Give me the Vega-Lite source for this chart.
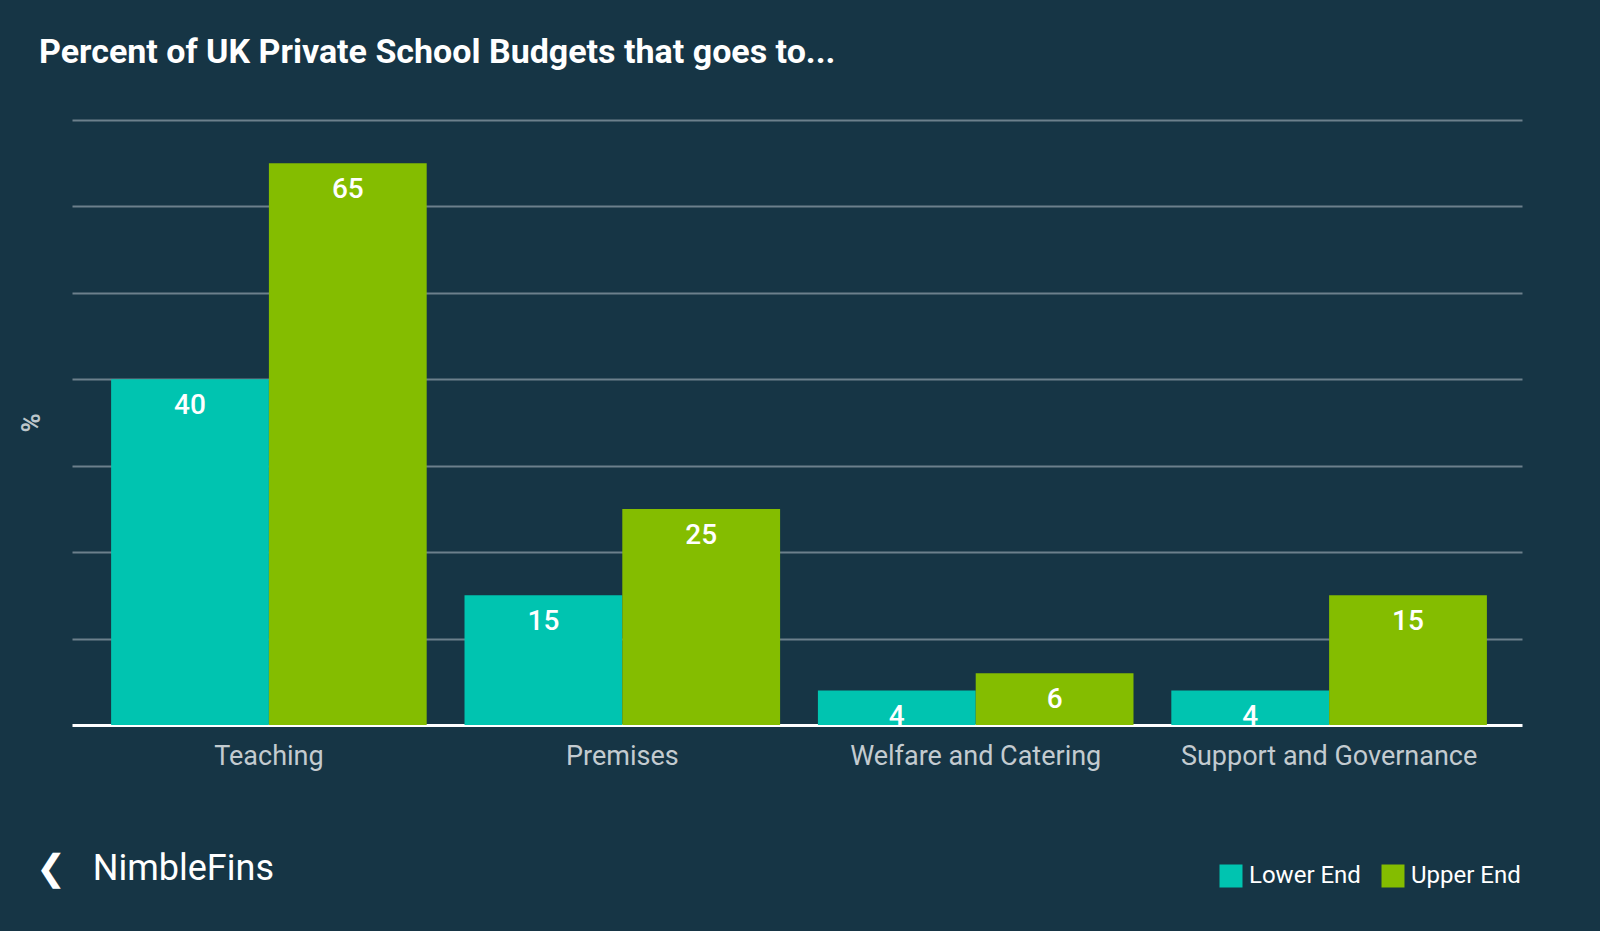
{
  "$schema": "https://vega.github.io/schema/vega-lite/v6.json",
  "autosize": {"type": "none"},
  "width": 1450,
  "height": 605,
  "padding": {"left": 72, "top": 120, "right": 78, "bottom": 206},
  "background": "#163545",
  "config": {"view": {"stroke": null}},
  "title": {
    "text": "Percent of UK Private School Budgets that goes to...",
    "anchor": "start",
    "frame": "group",
    "dx": -33,
    "offset": 50,
    "font": "Roboto",
    "fontSize": 34,
    "fontWeight": "bold",
    "color": "#ffffff"
  },
  "data": {
    "values": [
      {"category": "Teaching", "series": "Lower End", "value": 40},
      {"category": "Teaching", "series": "Upper End", "value": 65},
      {"category": "Premises", "series": "Lower End", "value": 15},
      {"category": "Premises", "series": "Upper End", "value": 25},
      {"category": "Welfare and Catering", "series": "Lower End", "value": 4},
      {"category": "Welfare and Catering", "series": "Upper End", "value": 6},
      {"category": "Support and Governance", "series": "Lower End", "value": 4},
      {"category": "Support and Governance", "series": "Upper End", "value": 15}
    ]
  },
  "encoding": {
    "x": {
      "field": "category",
      "type": "nominal",
      "sort": null,
      "scale": {"paddingInner": 0.107, "paddingOuter": 0.105, "align": 0.527},
      "axis": {
        "title": "❮ \u2002NimbleFins",
        "titleFont": "Roboto",
        "titleFontSize": 36,
        "titleFontWeight": "normal",
        "titleColor": "#ffffff",
        "titleAnchor": "start",
        "titleAlign": "left",
        "titleBaseline": "alphabetic",
        "titleX": -37,
        "titleY": 154,
        "labelAngle": 0,
        "labelLimit": 0,
        "labelFont": "Roboto",
        "labelFontSize": 27,
        "labelColor": "#c3cbd0",
        "labelPadding": 18,
        "ticks": false,
        "domainColor": "#ffffff",
        "domainWidth": 3
      }
    },
    "xOffset": {"field": "series", "type": "nominal"},
    "y": {
      "field": "value",
      "type": "quantitative",
      "scale": {"domain": [0, 70]},
      "axis": {
        "title": "%",
        "titleFont": "Roboto",
        "titleFontSize": 26,
        "titleFontWeight": "bold",
        "titleColor": "#bcc6cb",
        "titlePadding": 28,
        "values": [10, 20, 30, 40, 50, 60, 70],
        "labels": false,
        "ticks": false,
        "domain": false,
        "grid": true,
        "gridColor": "#6c808c",
        "gridWidth": 2
      }
    }
  },
  "layer": [
    {
      "mark": {"type": "bar"},
      "encoding": {
        "color": {
          "field": "series",
          "type": "nominal",
          "scale": {"domain": ["Lower End", "Upper End"], "range": ["#00c4b0", "#84bd00"]},
          "legend": {
            "title": null,
            "orient": "none",
            "legendX": 1147,
            "legendY": 744,
            "direction": "horizontal",
            "symbolType": "square",
            "symbolSize": 529,
            "symbolStrokeWidth": 0,
            "labelFont": "Roboto",
            "labelFontSize": 24,
            "labelColor": "#ffffff",
            "labelOffset": 6,
            "columnPadding": 20
          }
        }
      }
    },
    {
      "mark": {
        "type": "text",
        "baseline": "middle",
        "dy": 27,
        "font": "Roboto",
        "fontSize": 28,
        "fontWeight": 500,
        "color": "#ffffff"
      },
      "encoding": {
        "text": {"field": "value", "type": "quantitative"}
      }
    }
  ]
}
